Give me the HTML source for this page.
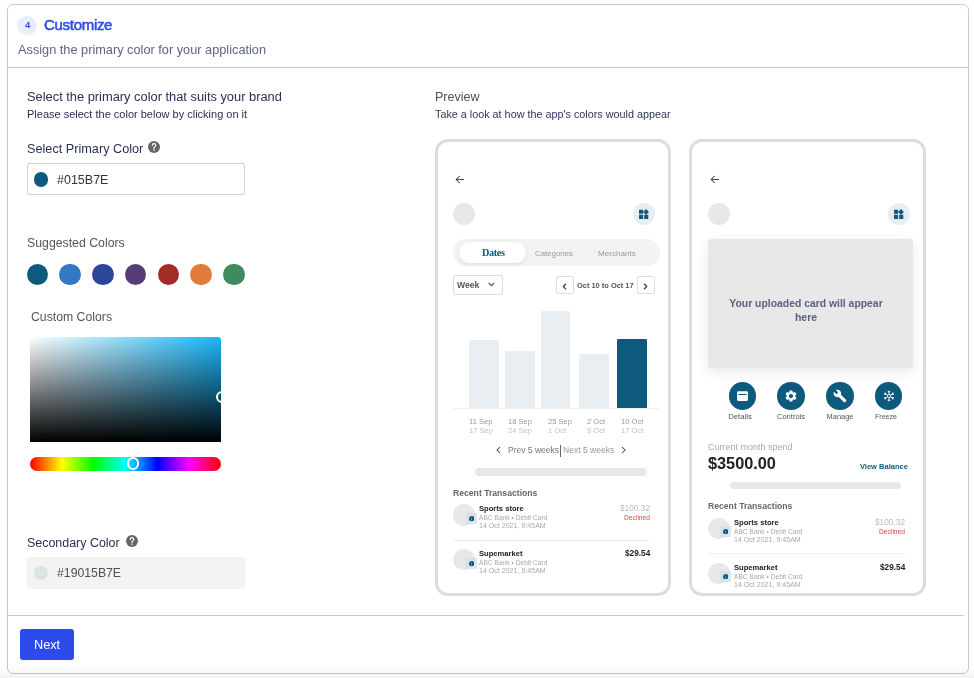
<!DOCTYPE html>
<html><head><meta charset="utf-8"><style>
html,body{margin:0;padding:0;width:974px;height:678px;overflow:hidden;background:#fff;font-family:"Liberation Sans", sans-serif;}
.b{position:absolute;box-sizing:content-box}
.t{position:absolute;line-height:1;white-space:nowrap;will-change:transform}
</style></head><body>
<div class="b" style="left:7px;top:4px;width:960px;height:668px;border:1px solid #C9C9C9;border-radius:6px;background:#fff"></div>
<div class="b" style="left:8px;top:67px;width:960px;height:1px;background:#C9C9C9;border-radius:0px;"></div>
<div class="b" style="left:8px;top:615px;width:956px;height:1px;background:#C9C9C9;border-radius:0px;"></div>
<div class="b" style="left:17px;top:15.5px;width:20px;height:19.5px;background:#E8EEFC;border-radius:10px;"></div>
<div class="t" style="left:24.8px;top:20.21px;font-size:9.6px;color:#3553E0;font-weight:700;">4</div>
<div class="t" style="left:44px;top:17.01px;font-size:15px;color:#2D4DE8;font-weight:400;letter-spacing:-0.3px;-webkit-text-stroke:0.55px #2D4DE8;">Customize</div>
<div class="t" style="left:17.5px;top:44.00px;font-size:12.75px;color:#5C6582;font-weight:400;">Assign the primary color for your application</div>
<div class="t" style="left:27px;top:91.01px;font-size:12.85px;color:#283156;font-weight:400;">Select the primary color that suits your brand</div>
<div class="t" style="left:27px;top:109.11px;font-size:11px;color:#283156;font-weight:400;">Please select the color below by clicking on it</div>
<div class="t" style="left:27px;top:143.30px;font-size:12.7px;color:#283156;font-weight:400;">Select Primary Color</div>
<svg class="b" style="left:148px;top:141.3px" width="12" height="12" viewBox="2 2 20 20"><circle cx="12" cy="12" r="10" fill="#666"/><path d="M9.1 9.4c0-1.7 1.3-3 2.9-3s2.9 1.2 2.9 2.9c0 2-2.9 2.2-2.9 4.6v1.4" fill="none" stroke="#fff" stroke-width="2" stroke-linecap="round"/><circle cx="12" cy="17.6" r="1.2" fill="#fff"/></svg>
<div class="b" style="left:27px;top:163px;width:216px;height:30px;border:1px solid #D0D0D0;border-radius:3px"></div>
<div class="b" style="left:33.7px;top:172px;width:14.5px;height:14.5px;background:#0D5A7C;border-radius:7.25px;"></div>
<div class="t" style="left:57px;top:174.30px;font-size:12.5px;color:#333;font-weight:400;">#015B7E</div>
<div class="t" style="left:27px;top:237.21px;font-size:12.3px;color:#555;font-weight:400;">Suggested Colors</div>
<div class="b" style="left:26.85px;top:263.8px;width:21.5px;height:21.5px;background:#0D5A7C;border-radius:10.75px;"></div>
<div class="b" style="left:59.25px;top:263.8px;width:21.5px;height:21.5px;background:#3378C4;border-radius:10.75px;"></div>
<div class="b" style="left:92.25px;top:263.8px;width:21.5px;height:21.5px;background:#2C479A;border-radius:10.75px;"></div>
<div class="b" style="left:124.75px;top:263.8px;width:21.5px;height:21.5px;background:#563D7A;border-radius:10.75px;"></div>
<div class="b" style="left:157.65px;top:263.8px;width:21.5px;height:21.5px;background:#A52A2A;border-radius:10.75px;"></div>
<div class="b" style="left:190.25px;top:263.8px;width:21.5px;height:21.5px;background:#E07B39;border-radius:10.75px;"></div>
<div class="b" style="left:223.25px;top:263.8px;width:21.5px;height:21.5px;background:#3F8A5F;border-radius:10.75px;"></div>
<div class="t" style="left:31px;top:311.20px;font-size:12.25px;color:#555;font-weight:400;">Custom Colors</div>
<div class="b" style="left:30px;top:337px;width:191px;height:105px;border-radius:3px 3px 0 0;background:linear-gradient(to top,#000,rgba(0,0,0,0)),linear-gradient(to right,#fff,rgb(24,182,248))"></div>
<div class="b" style="left:216px;top:391px;width:8px;height:8px;border:2px solid #fff;border-radius:50%"></div>
<div class="b" style="left:30px;top:457px;width:191px;height:14px;border-radius:7px;background:linear-gradient(to right,#f00 0%,#ff0 16.66%,#0f0 33.33%,#0ff 50%,#00f 66.66%,#f0f 83.33%,#f00 100%)"></div>
<div class="b" style="left:126.8px;top:457.3px;width:8.7px;height:8.7px;border:2px solid #fff;border-radius:50%"></div>
<div class="t" style="left:27px;top:537.01px;font-size:12.45px;color:#283156;font-weight:400;">Secondary Color</div>
<svg class="b" style="left:126px;top:535px" width="12" height="12" viewBox="2 2 20 20"><circle cx="12" cy="12" r="10" fill="#666"/><path d="M9.1 9.4c0-1.7 1.3-3 2.9-3s2.9 1.2 2.9 2.9c0 2-2.9 2.2-2.9 4.6v1.4" fill="none" stroke="#fff" stroke-width="2" stroke-linecap="round"/><circle cx="12" cy="17.6" r="1.2" fill="#fff"/></svg>
<div class="b" style="left:27px;top:557px;width:218px;height:32px;background:#F3F3F3;border-radius:3px;"></div>
<div class="b" style="left:34px;top:566px;width:14px;height:14px;background:#DCE3E7;border-radius:7px;"></div>
<div class="t" style="left:57px;top:567.41px;font-size:12.25px;color:#505050;font-weight:400;">#19015B7E</div>
<div class="b" style="left:20px;top:629px;width:54px;height:31px;background:#2C4BEA;border-radius:3px;"></div>
<div class="t" style="left:34.2px;top:639.00px;font-size:12.7px;color:#fff;font-weight:400;">Next</div>
<div class="t" style="left:435px;top:91.01px;font-size:12.5px;color:#505050;font-weight:400;">Preview</div>
<div class="t" style="left:435px;top:108.80px;font-size:10.8px;color:#2E365C;font-weight:400;">Take a look at how the app's colors would appear</div>
<div class="b" style="left:435px;top:139px;width:230px;height:451px;border:3px solid #DCDCDC;border-radius:13px;background:#fff"></div>
<svg class="b" style="left:455.0px;top:175px" width="10" height="9" viewBox="0 0 10 9"><path d="M9 4.5H1.2M4.7 1L1.2 4.5L4.7 8" fill="none" stroke="#444" stroke-width="1.05"/></svg>
<div class="b" style="left:453.0px;top:203px;width:22px;height:22px;background:#E8E8E8;border-radius:11px;"></div>
<div class="b" style="left:633px;top:203px;width:22px;height:22px;background:#E6EEF2;border-radius:11px;"></div>
<svg class="b" style="left:639px;top:208.5px" width="10" height="10" viewBox="3 1.7 19.4 19.4"><path fill="#0D5A7C" d="M13 13v8h8v-8h-8zM3 21h8v-8H3v8zM3 3v8h8V3H3zm13.66-1.31L11 7.34 16.66 13l5.66-5.66-5.66-5.65z"/></svg>
<div class="b" style="left:689px;top:139px;width:231px;height:451px;border:3px solid #DCDCDC;border-radius:13px;background:#fff"></div>
<svg class="b" style="left:709.5px;top:175px" width="10" height="9" viewBox="0 0 10 9"><path d="M9 4.5H1.2M4.7 1L1.2 4.5L4.7 8" fill="none" stroke="#444" stroke-width="1.05"/></svg>
<div class="b" style="left:707.5px;top:203px;width:22px;height:22px;background:#E8E8E8;border-radius:11px;"></div>
<div class="b" style="left:888px;top:203px;width:22px;height:22px;background:#E6EEF2;border-radius:11px;"></div>
<svg class="b" style="left:894px;top:208.5px" width="10" height="10" viewBox="3 1.7 19.4 19.4"><path fill="#0D5A7C" d="M13 13v8h8v-8h-8zM3 21h8v-8H3v8zM3 3v8h8V3H3zm13.66-1.31L11 7.34 16.66 13l5.66-5.66-5.66-5.65z"/></svg>
<div class="b" style="left:453px;top:239px;width:207px;height:27px;background:#F3F3F3;border-radius:14px;"></div>
<div class="b" style="left:459px;top:242px;width:67px;height:21px;background:#fff;border-radius:11px;box-shadow:0 1px 4px rgba(0,0,0,0.10)"></div>
<div class="t" style="left:481.9px;top:248.01px;font-size:10.2px;color:#0D5A7C;font-weight:700;letter-spacing:-0.35px;font-family:'Liberation Serif', serif;">Dates</div>
<div class="t" style="left:535px;top:250.01px;font-size:7.85px;color:#9A9A9A;font-weight:400;">Categories</div>
<div class="t" style="left:598px;top:250.02px;font-size:8.1px;color:#9A9A9A;font-weight:400;">Merchants</div>
<div class="b" style="left:453px;top:275px;width:48px;height:18px;border:1px solid #DDD;border-radius:2px"></div>
<div class="t" style="left:457px;top:281.00px;font-size:8.6px;color:#555;font-weight:700;">Week</div>
<svg class="b" style="left:488px;top:281.5px" width="7" height="5" viewBox="0 0 7 5"><path d="M0.8 1L3.5 3.7L6.2 1" fill="none" stroke="#555" stroke-width="1.2"/></svg>
<div class="b" style="left:555.5px;top:276.3px;width:16px;height:15.5px;border:1px solid #DDD;border-radius:2px"></div>
<svg class="b" style="left:561.8px;top:282.5px" width="5" height="7" viewBox="0 0 5 7"><path d="M4 0.8L1.3 3.5L4 6.2" fill="none" stroke="#444" stroke-width="1.3"/></svg>
<div class="t" style="left:576.7px;top:282.01px;font-size:7.45px;color:#555;font-weight:700;">Oct 10 to Oct 17</div>
<div class="b" style="left:637px;top:276px;width:16px;height:16px;border:1px solid #DDD;border-radius:2px"></div>
<svg class="b" style="left:643px;top:282.5px" width="5" height="7" viewBox="0 0 5 7"><path d="M1 0.8L3.7 3.5L1 6.2" fill="none" stroke="#444" stroke-width="1.3"/></svg>
<div class="b" style="left:469px;top:340px;width:30px;height:68px;background:#E9EEF2;border-radius:1px;border-radius:1px 1px 0 0"></div>
<div class="b" style="left:505px;top:351px;width:30px;height:57px;background:#E9EEF2;border-radius:1px;border-radius:1px 1px 0 0"></div>
<div class="b" style="left:541px;top:311px;width:29px;height:97px;background:#E9EEF2;border-radius:1px;border-radius:1px 1px 0 0"></div>
<div class="b" style="left:579px;top:354px;width:30px;height:54px;background:#E9EEF2;border-radius:1px;border-radius:1px 1px 0 0"></div>
<div class="b" style="left:617px;top:339px;width:30px;height:69px;background:#0D5A7C;border-radius:1px;border-radius:1px 1px 0 0"></div>
<div class="b" style="left:453px;top:408px;width:206px;height:1px;background:#F0F0F0;border-radius:0px;"></div>
<div class="t" style="left:469px;top:418.20px;font-size:7.6px;color:#999;font-weight:400;">11 Sep</div>
<div class="t" style="left:469px;top:427.00px;font-size:7.6px;color:#C2C2C2;font-weight:400;">17 Sep</div>
<div class="t" style="left:508px;top:418.20px;font-size:7.6px;color:#999;font-weight:400;">18 Sep</div>
<div class="t" style="left:508px;top:427.00px;font-size:7.6px;color:#C2C2C2;font-weight:400;">24 Sep</div>
<div class="t" style="left:548px;top:418.20px;font-size:7.6px;color:#999;font-weight:400;">25 Sep</div>
<div class="t" style="left:548px;top:427.00px;font-size:7.6px;color:#C2C2C2;font-weight:400;">1 Oct</div>
<div class="t" style="left:587px;top:418.20px;font-size:7.6px;color:#999;font-weight:400;">2 Oct</div>
<div class="t" style="left:587px;top:427.00px;font-size:7.6px;color:#C2C2C2;font-weight:400;">9 Oct</div>
<div class="t" style="left:620.5px;top:418.20px;font-size:7.6px;color:#999;font-weight:400;">10 Oct</div>
<div class="t" style="left:620.5px;top:427.00px;font-size:7.6px;color:#C2C2C2;font-weight:400;">17 Oct</div>
<svg class="b" style="left:496px;top:446px" width="5" height="8" viewBox="0 0 5 8"><path d="M4 1L1 4L4 7" fill="none" stroke="#444" stroke-width="1.05"/></svg>
<div class="t" style="left:508px;top:446.01px;font-size:8.5px;color:#777;font-weight:400;">Prev 5 weeks</div>
<div class="b" style="left:560px;top:445px;width:1px;height:12px;background:#666;border-radius:0px;"></div>
<div class="t" style="left:563px;top:446.01px;font-size:8.55px;color:#999;font-weight:400;">Next 5 weeks</div>
<svg class="b" style="left:621px;top:446px" width="5" height="8" viewBox="0 0 5 8"><path d="M1 1L4 4L1 7" fill="none" stroke="#444" stroke-width="1.05"/></svg>
<div class="b" style="left:475px;top:468px;width:172px;height:8px;background:#E8E8E8;border-radius:4px;"></div>
<div class="t" style="left:453px;top:489.01px;font-size:8.65px;color:#666;font-weight:700;">Recent Transactions</div>
<div class="b" style="left:453px;top:504.2px;width:21.5px;height:21.5px;background:#E8E8E8;border-radius:10.75px;"></div>
<div class="b" style="left:466.3px;top:513.3px;width:11px;height:11px;background:rgba(210,224,232,0.75);border-radius:0px;"></div>
<svg class="b" style="left:468.90000000000003px;top:515.8px" width="5.5" height="5.5" viewBox="2 2 20 20"><path fill="#0D5A7C" d="M12 2C6.48 2 2 6.48 2 12s4.48 10 10 10 10-4.48 10-10S17.52 2 12 2zm1 15h-2v-6h2v6zm0-8h-2V7h2v2z"/></svg>
<div class="t" style="left:479px;top:505.31px;font-size:7.6px;color:#222;font-weight:700;">Sports store</div>
<div class="t" style="left:479px;top:515.21px;font-size:6.65px;color:#AAA;font-weight:400;">ABC Bank • Debit Card</div>
<div class="t" style="left:479px;top:522.20px;font-size:7.07px;color:#AAA;font-weight:400;">14 Oct 2021, 9:45AM</div>
<div class="t" style="right:324px;top:504.31px;font-size:8.3px;color:#BBB;font-weight:400;">$100.32</div>
<div class="t" style="right:324px;top:515.21px;font-size:6.7px;color:#E0484B;font-weight:400;">Declined</div>
<div class="b" style="left:453px;top:548.9px;width:21.5px;height:21.5px;background:#E8E8E8;border-radius:10.75px;"></div>
<div class="b" style="left:466.3px;top:558px;width:11px;height:11px;background:rgba(210,224,232,0.75);border-radius:0px;"></div>
<svg class="b" style="left:468.90000000000003px;top:560.5px" width="5.5" height="5.5" viewBox="2 2 20 20"><path fill="#0D5A7C" d="M12 2C6.48 2 2 6.48 2 12s4.48 10 10 10 10-4.48 10-10S17.52 2 12 2zm1 15h-2v-6h2v6zm0-8h-2V7h2v2z"/></svg>
<div class="t" style="left:479px;top:550.00px;font-size:7.6px;color:#222;font-weight:700;">Supemarket</div>
<div class="t" style="left:479px;top:559.91px;font-size:6.65px;color:#AAA;font-weight:400;">ABC Bank • Debit Card</div>
<div class="t" style="left:479px;top:566.91px;font-size:7.07px;color:#AAA;font-weight:400;">14 Oct 2021, 9:45AM</div>
<div class="t" style="right:324px;top:550.00px;font-size:8.25px;color:#222;font-weight:700;">$29.54</div>
<div class="b" style="left:453px;top:540px;width:197px;height:1px;background:#EEE;border-radius:0px;"></div>
<div class="b" style="left:708px;top:239px;width:205px;height:129px;background:#E8E8E8;border-radius:3px;box-shadow:0 4px 14px rgba(0,0,0,0.09)"></div>
<div class="t" style="left:606px;width:400px;text-align:center;top:299.01px;font-size:10.4px;color:#5B6180;font-weight:700;">Your uploaded card will appear</div>
<div class="t" style="left:606px;width:400px;text-align:center;top:312.00px;font-size:10.5px;color:#5B6180;font-weight:700;">here</div>
<div class="b" style="left:728.75px;top:382.2px;width:27.5px;height:27.5px;background:#0D5A7C;border-radius:13.75px;"></div>
<div class="t" style="left:540.4px;width:400px;text-align:center;top:413.00px;font-size:7.75px;color:#555;font-weight:400;">Details</div>
<div class="b" style="left:777.25px;top:382.2px;width:27.5px;height:27.5px;background:#0D5A7C;border-radius:13.75px;"></div>
<div class="t" style="left:591px;width:400px;text-align:center;top:413.00px;font-size:7.55px;color:#555;font-weight:400;">Controls</div>
<div class="b" style="left:826.25px;top:382.2px;width:27.5px;height:27.5px;background:#0D5A7C;border-radius:13.75px;"></div>
<div class="t" style="left:639.5px;width:400px;text-align:center;top:413.01px;font-size:7.45px;color:#555;font-weight:400;">Manage</div>
<div class="b" style="left:874.75px;top:382.2px;width:27.5px;height:27.5px;background:#0D5A7C;border-radius:13.75px;"></div>
<div class="t" style="left:686px;width:400px;text-align:center;top:414.01px;font-size:7.1px;color:#555;font-weight:400;">Freeze</div>
<svg class="b" style="left:736px;top:389px" width="13" height="13" viewBox="0 0 24 24"><path fill="#fff" d="M20 4H4c-1.11 0-2 .89-2 2v14c0 1.11.89 2 2 2h16c1.11 0 2-.89 2-2V6c0-1.11-.89-2-2-2z"/><rect x="4" y="9.2" width="16" height="1.9" rx="0.9" fill="#0D5A7C"/></svg>
<svg class="b" style="left:784px;top:389px" width="14" height="14" viewBox="0 0 24 24"><path fill="#fff" d="M19.14 12.94c.04-.3.06-.61.06-.94 0-.32-.02-.64-.07-.94l2.03-1.58c.18-.14.23-.41.12-.61l-1.92-3.32c-.12-.22-.37-.29-.59-.22l-2.39.96c-.5-.38-1.03-.7-1.62-.94l-.36-2.54c-.04-.24-.24-.41-.48-.41h-3.84c-.24 0-.43.17-.47.41l-.36 2.54c-.59.24-1.13.57-1.62.94l-2.39-.96c-.22-.08-.47 0-.59.22L2.74 8.87c-.12.21-.08.47.12.61l2.03 1.58c-.05.3-.09.63-.09.94s.02.64.07.94l-2.03 1.58c-.18.14-.23.41-.12.61l1.92 3.32c.12.22.37.29.59.22l2.39-.96c.5.38 1.03.7 1.62.94l.36 2.54c.05.24.24.41.48.41h3.84c.24 0 .44-.17.47-.41l.36-2.54c.59-.24 1.13-.56 1.62-.94l2.39.96c.22.08.47 0 .59-.22l1.92-3.32c.12-.22.07-.47-.12-.61l-2.01-1.58zM12 15.6c-1.98 0-3.6-1.62-3.6-3.6s1.62-3.6 3.6-3.6 3.6 1.62 3.6 3.6-1.62 3.6-3.6 3.6z"/></svg>
<svg class="b" style="left:833px;top:389px" width="14" height="14" viewBox="0 0 24 24"><path fill="#fff" d="M22.7 19l-9.1-9.1c.9-2.3.4-5-1.5-6.9-2-2-5-2.4-7.4-1.3L9 6 6 9 1.6 4.7C.4 7.1.9 10.1 2.9 12.1c1.9 1.9 4.6 2.4 6.9 1.5l9.1 9.1c.4.4 1 .4 1.4 0l2.3-2.3c.5-.4.5-1.1.1-1.4z"/></svg>
<svg class="b" style="left:882.8px;top:389.8px" width="12" height="12" viewBox="0 0 24 24"><path fill="none" stroke="#fff" stroke-width="1.7" stroke-linecap="round" stroke-linejoin="round" d="M14.86 13.65 L12.00 15.30 L9.14 13.65 L9.14 10.35 L12.00 8.70 L14.86 10.35ZM14.86 13.65L20.66 17.00M18.58 15.80L19.25 18.31M18.58 15.80L21.09 15.13M12.00 15.30L12.00 22.00M12.00 19.60L10.16 21.44M12.00 19.60L13.84 21.44M9.14 13.65L3.34 17.00M5.42 15.80L2.91 15.13M5.42 15.80L4.75 18.31M9.14 10.35L3.34 7.00M5.42 8.20L4.75 5.69M5.42 8.20L2.91 8.87M12.00 8.70L12.00 2.00M12.00 4.40L13.84 2.56M12.00 4.40L10.16 2.56M14.86 10.35L20.66 7.00M18.58 8.20L21.09 8.87M18.58 8.20L19.25 5.69"/></svg>
<div class="t" style="left:708px;top:442.81px;font-size:9.0px;color:#AAA;font-weight:400;">Current month spend</div>
<div class="t" style="left:708px;top:454.91px;font-size:16.3px;color:#222;font-weight:700;">$3500.00</div>
<div class="t" style="right:66.5px;top:462.90px;font-size:7.5px;color:#0D5A7C;font-weight:700;">View Balance</div>
<div class="b" style="left:730px;top:482px;width:171px;height:7px;background:#E8E8E8;border-radius:3.5px;"></div>
<div class="t" style="left:708px;top:502.01px;font-size:8.65px;color:#666;font-weight:700;">Recent Transactions</div>
<div class="b" style="left:708px;top:517.9px;width:21.5px;height:21.5px;background:#E8E8E8;border-radius:10.75px;"></div>
<div class="b" style="left:720.2px;top:526px;width:11px;height:11px;background:rgba(210,224,232,0.75);border-radius:0px;"></div>
<svg class="b" style="left:722.8000000000001px;top:528.5px" width="5.5" height="5.5" viewBox="2 2 20 20"><path fill="#0D5A7C" d="M12 2C6.48 2 2 6.48 2 12s4.48 10 10 10 10-4.48 10-10S17.52 2 12 2zm1 15h-2v-6h2v6zm0-8h-2V7h2v2z"/></svg>
<div class="t" style="left:734px;top:519.00px;font-size:7.6px;color:#222;font-weight:700;">Sports store</div>
<div class="t" style="left:734px;top:528.91px;font-size:6.65px;color:#AAA;font-weight:400;">ABC Bank • Debit Card</div>
<div class="t" style="left:734px;top:535.91px;font-size:7.07px;color:#AAA;font-weight:400;">14 Oct 2021, 9:45AM</div>
<div class="t" style="right:69px;top:518.01px;font-size:8.3px;color:#BBB;font-weight:400;">$100.32</div>
<div class="t" style="right:69px;top:528.91px;font-size:6.7px;color:#E0484B;font-weight:400;">Declined</div>
<div class="b" style="left:708px;top:562.9px;width:21.5px;height:21.5px;background:#E8E8E8;border-radius:10.75px;"></div>
<div class="b" style="left:720.2px;top:571px;width:11px;height:11px;background:rgba(210,224,232,0.75);border-radius:0px;"></div>
<svg class="b" style="left:722.8000000000001px;top:573.5px" width="5.5" height="5.5" viewBox="2 2 20 20"><path fill="#0D5A7C" d="M12 2C6.48 2 2 6.48 2 12s4.48 10 10 10 10-4.48 10-10S17.52 2 12 2zm1 15h-2v-6h2v6zm0-8h-2V7h2v2z"/></svg>
<div class="t" style="left:734px;top:564.00px;font-size:7.6px;color:#222;font-weight:700;">Supemarket</div>
<div class="t" style="left:734px;top:573.91px;font-size:6.65px;color:#AAA;font-weight:400;">ABC Bank • Debit Card</div>
<div class="t" style="left:734px;top:580.91px;font-size:7.07px;color:#AAA;font-weight:400;">14 Oct 2021, 9:45AM</div>
<div class="t" style="right:69px;top:564.00px;font-size:8.25px;color:#222;font-weight:700;">$29.54</div>
<div class="b" style="left:708px;top:553px;width:197px;height:1px;background:#EEE;border-radius:0px;"></div>
<div class="b" style="left:0;top:664px;width:974px;height:14px;background:linear-gradient(rgba(0,0,0,0) 0%,rgba(0,0,0,0.025) 60%,rgba(0,0,0,0.06) 100%);pointer-events:none"></div>
</body></html>
